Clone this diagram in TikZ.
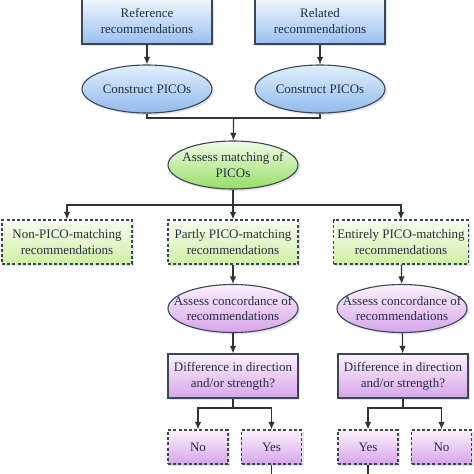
\documentclass[tikz,border=0pt]{standalone}
\usepackage{fontspec}
\setmainfont{Liberation Serif}
\usepackage{tikz}
\usetikzlibrary{arrows.meta,shapes.geometric,shadows,calc}

\definecolor{edge}{HTML}{3B4656}
\definecolor{ink}{HTML}{27303D}
\definecolor{blueTop}{HTML}{F2F7FE}
\definecolor{blueBot}{HTML}{98C0F1}
\definecolor{ovalTop}{HTML}{E2EFFC}
\definecolor{ovalBot}{HTML}{90BAEC}
\definecolor{greenTop}{HTML}{F2FCE6}
\definecolor{greenBot}{HTML}{96DE66}
\definecolor{limeTop}{HTML}{F8FDEE}
\definecolor{limeBot}{HTML}{CFEFA6}
\definecolor{lilacTop}{HTML}{FBF2FD}
\definecolor{lilacBot}{HTML}{D7A5EA}

\begin{document}
\begin{tikzpicture}[
  x=1pt, y=-1pt,
  font=\fontsize{13}{15.8}\selectfont,
  >={Latex[length=7.5pt,width=6.5pt]},
  base/.style={draw=edge, line width=1.1pt, text=ink, align=center,
    drop shadow={shadow xshift=2pt, shadow yshift=-2pt, fill=black!22}},
  srcbox/.style={base, rectangle, minimum width=130pt, minimum height=46pt,
    top color=blueTop, bottom color=blueBot},
  oval/.style={base, ellipse, inner xsep=-25pt, inner ysep=-10pt,
    minimum width=130pt, minimum height=48pt},
  blueoval/.style={oval, top color=ovalTop, bottom color=ovalBot},
  greenoval/.style={oval, top color=greenTop, bottom color=greenBot},
  purpleoval/.style={oval, top color=lilacTop, bottom color=lilacBot},
  group/.style={base, dashed, dash pattern=on 3pt off 2.2pt, rectangle,
    minimum width=130pt, minimum height=44pt, top color=limeTop, bottom color=limeBot},
  question/.style={base, rectangle, minimum width=130pt, minimum height=44pt,
    top color=lilacTop, bottom color=lilacBot},
  answer/.style={base, dashed, dash pattern=on 3pt off 2.2pt, rectangle,
    minimum width=60pt, minimum height=34pt, top color=lilacTop, bottom color=lilacBot},
  arrow/.style={->, draw=black!80, line width=1.2pt},
  link/.style={draw=black!80, line width=1.2pt}
]
  \clip (0,0) rectangle (474,474);

  \node[srcbox] (refrec) at (147,21) {Reference\\recommendations};
  \node[srcbox] (relrec) at (320,21) {Related\\recommendations};
  \node[blueoval] (pico1) at (147,89) {Construct PICOs};
  \node[blueoval] (pico2) at (320,89) {Construct PICOs};
  \node[greenoval] (match) at (233,165) {Assess matching of\\PICOs};

  \node[group] (nonm) at (67,242) {Non-PICO-matching\\recommendations};
  \node[group] (partly) at (233,242) {Partly PICO-matching\\recommendations};
  \node[group] (entirely) at (401,242) {Entirely PICO-matching\\recommendations};

  \node[purpleoval] (conc1) at (233,308.5) {Assess concordance of\\recommendations};
  \node[purpleoval] (conc2) at (402,308.5) {Assess concordance of\\recommendations};
  \node[question] (diff1) at (233,376) {Difference in direction\\and/or strength?};
  \node[question] (diff2) at (403,376) {Difference in direction\\and/or strength?};

  \node[answer] (no1) at (198,447) {No};
  \node[answer] (yes1) at (271.5,447) {Yes};
  \node[answer] (yes2) at (368,447) {Yes};
  \node[answer] (no2) at (441.5,447) {No};

  \draw[arrow] (refrec) -- (pico1);
  \draw[arrow] (relrec) -- (pico2);
  \coordinate (join) at (233.5,118);
  \draw[link] (pico1.south) |- (join) -| (pico2.south);
  \draw[arrow] (join) -- (match);

  \coordinate (split) at (233,205);
  \draw[link] (match) -- (split);
  \draw[arrow] (split) -| (nonm.north);
  \draw[arrow] (split) -- (partly);
  \draw[arrow] (split) -| (entirely.north);

  \draw[arrow] (partly) -- (conc1);
  \draw[arrow] (entirely) -- (conc2);
  \draw[arrow] (conc1) -- (diff1);
  \draw[arrow] (conc2) -- (diff2);

  \coordinate (split1) at (233,408);
  \coordinate (split2) at (403,408);
  \draw[link] (diff1) -- (split1);
  \draw[arrow] (split1) -| (no1.north);
  \draw[arrow] (split1) -| (yes1.north);
  \draw[link] (diff2) -- (split2);
  \draw[arrow] (split2) -| (yes2.north);
  \draw[arrow] (split2) -| (no2.north);

  \coordinate (out1) at (271.5,480);
  \coordinate (out2) at (368,480);
  \draw[link] (yes1) -- (out1);
  \draw[link] (yes2) -- (out2);
\end{tikzpicture}
\end{document}
